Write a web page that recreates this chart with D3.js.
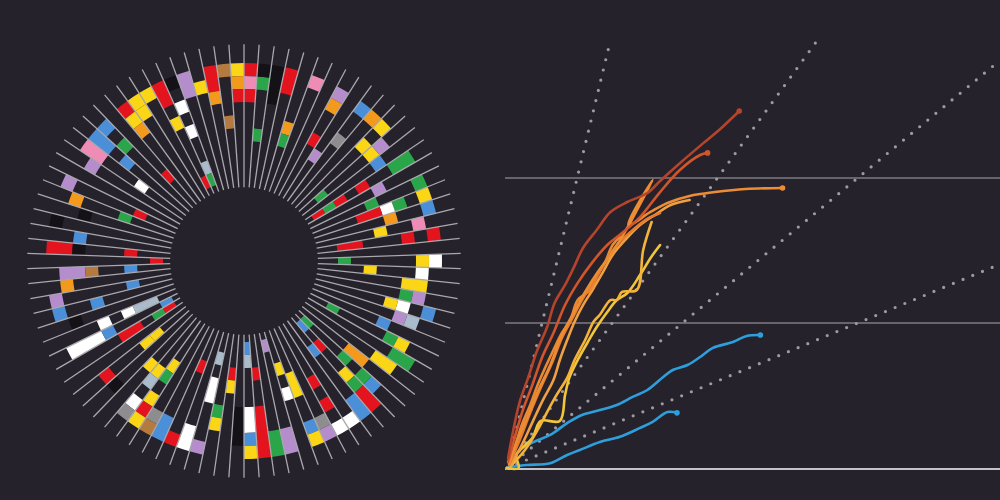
<!DOCTYPE html>
<html><head><meta charset="utf-8">
<script src="https://cdn.jsdelivr.net/npm/d3@7"></script>
<style>html,body{margin:0;padding:0;background:#25222b;}svg{display:block;}</style>
</head><body>
<svg id="chart" width="1000" height="500"></svg>
<script>
// ---------- radial chart data ----------
const spokeCount = 90;
const ringCount = 10;
const palette = {R:"#e3141e",Y:"#fbd616",W:"#ffffff",B:"#4b8fd8",G:"#2aa54a",O:"#f39a1c",P:"#b58ccc",K:"#ef8cb6",A:"#8d8d8f",L:"#a8bccb",N:"#b47a3e",X:"#141217"};
// [sector, first ring, ring count, colour key]
const cells = [
[0,8,1,"R"],[0,7,1,"K"],[0,6,1,"R"],
[1,7,1,"G"],[1,3,1,"G"],[1,8,1,"X"],
[2,6,3,"X"],
[3,7,2,"R"],
[4,4,1,"O"],[4,3,1,"G"],
[5,8,1,"K"],
[7,8,1,"P"],[7,7,1,"O"],[7,4,1,"R"],
[8,3,1,"P"],
[9,8,1,"B"],[9,5,1,"A"],
[10,8,1,"O"],
[11,8,1,"Y"],[11,6,1,"Y"],
[12,6,1,"Y"],[12,7,1,"P"],[12,1,1,"G"],
[13,6,1,"B"],
[14,7,2,"G"],[14,4,1,"R"],[14,2,1,"R"],[14,1,1,"G"],[14,0,1,"R"],
[15,5,1,"P"],
[16,8,1,"G"],[16,4,1,"G"],
[17,8,1,"Y"],[17,6,1,"G"],[17,5,1,"W"],[17,3,2,"R"],
[18,8,1,"B"],[18,5,1,"O"],
[19,7,1,"K"],[19,4,1,"Y"],
[20,8,1,"R"],[20,6,1,"R"],[20,1,2,"R"],
[22,7,1,"Y"],[22,8,1,"W"],[22,1,1,"G"],
[23,7,1,"W"],[23,3,1,"Y"],
[24,6,2,"Y"],
[25,6,1,"G"],[25,7,1,"P"],
[26,6,1,"W"],[26,8,1,"B"],[26,5,1,"Y"],
[27,6,1,"P"],[27,7,1,"L"],
[28,5,1,"B"],
[29,6,1,"G"],[29,7,1,"Y"],[29,1,1,"G"],
[30,7,2,"G"],
[31,6,2,"Y"],
[32,4,2,"O"],
[33,4,1,"G"],[33,6,1,"G"],[33,7,1,"B"],[33,0,1,"G"],
[34,5,1,"Y"],[34,6,1,"G"],[34,7,2,"R"],[34,0,1,"B"],[34,2,1,"R"],
[35,7,2,"B"],[35,2,1,"B"],
[36,8,1,"W"],
[37,4,1,"R"],[37,6,1,"R"],[37,8,1,"W"],
[38,7,1,"A"],[38,8,1,"P"],
[39,3,2,"Y"],[39,7,1,"B"],[39,8,1,"Y"],
[40,2,1,"Y"],[40,4,1,"W"],
[41,7,2,"P"],[41,0,1,"P"],
[42,7,2,"G"],
[43,5,4,"R"],[43,2,1,"R"],
[44,5,2,"W"],[44,7,1,"B"],[44,8,1,"Y"],[44,0,1,"B"],[44,1,1,"L"],
[45,5,3,"X"],
[46,2,1,"R"],[46,3,1,"Y"],
[47,5,1,"G"],[47,6,1,"Y"],
[48,8,1,"P"],[48,1,1,"L"],[48,3,2,"W"],
[49,7,2,"W"],
[50,8,1,"R"],[50,2,1,"R"],
[51,7,2,"B"],
[52,7,1,"A"],[52,8,1,"N"],
[53,3,1,"Y"],[53,4,1,"G"],[53,6,1,"Y"],[53,7,1,"R"],[53,8,1,"Y"],
[54,4,1,"Y"],[54,5,1,"L"],[54,7,1,"W"],[54,8,1,"A"],
[55,4,1,"Y"],
[56,7,1,"X"],
[57,2,1,"Y"],[57,3,1,"Y"],[57,7,1,"R"],
[59,3,2,"R"],[59,0,1,"R"],[59,1,1,"G"],
[60,6,3,"W"],[60,5,1,"B"],[60,0,1,"B"],
[61,3,1,"W"],[61,1,2,"L"],[61,5,1,"W"],
[62,7,1,"X"],
[63,8,1,"B"],[63,5,1,"B"],
[64,8,1,"P"],[64,2,1,"B"],
[65,7,1,"O"],
[66,6,2,"P"],[66,5,1,"N"],[66,2,1,"B"],
[67,0,1,"R"],
[68,7,2,"R"],[68,2,1,"R"],[68,6,1,"X"],
[69,6,1,"B"],
[70,8,1,"X"],
[71,6,1,"X"],
[72,7,1,"O"],[72,3,1,"G"],
[73,8,1,"P"],[73,2,1,"R"],
[75,7,1,"P"],
[76,7,2,"K"],[76,3,1,"W"],
[77,7,2,"B"],[77,5,1,"B"],
[78,8,1,"B"],[78,6,1,"G"],
[79,2,1,"R"],
[80,8,1,"R"],[80,7,1,"Y"],[80,6,1,"O"],
[81,8,1,"Y"],[81,7,1,"Y"],
[82,8,1,"Y"],
[83,7,2,"R"],[83,5,1,"Y"],[83,0,1,"R"],
[84,6,1,"W"],[84,4,1,"W"],[84,1,1,"L"],[84,0,1,"G"],[84,8,1,"X"],
[85,7,2,"P"],
[86,7,1,"Y"],
[87,7,2,"R"],[87,6,1,"O"],
[88,8,1,"N"],[88,4,1,"N"],
[89,8,1,"Y"],[89,7,1,"O"],[89,6,1,"R"]
];

// ---------- line chart data: [day, value] ----------
const guideDoublingDays = [1, 3, 5, 10];
const gridValues = [10, 100];
const seriesA = [[0.1,1.17],[0.6,1.83],[1.2,2.85],[2.0,4.18],[2.8,6.31],[3.8,9.38],[4.5,13.7],[5.5,18.3],[6.3,23.9],[7.2,32.9],[8.5,43.8],[9.8,58.3],[11.4,68.3],[13.3,78.8],[14.5,95.4],[16.4,127],[18.6,174],[20.2,218],[22.0,290]];
const seriesB = [[0.1,1.10],[0.8,1.69],[1.5,2.51],[2.4,3.74],[3.3,5.74],[4.4,8.53],[5.5,13.3],[6.7,18.9],[8.1,26.3],[9.5,34.5],[10.9,41.8],[12.6,53.8],[14.5,80.0],[16.4,114],[18.3,144],[19.0,149]];
const seriesC = [[0.2,1.07],[0.9,1.51],[1.9,2.21],[2.9,3.34],[4.1,5.13],[5.2,8.26],[6.3,11.7],[7.4,16.4],[8.6,22.5],[10.0,30.9],[11.7,49.7],[13.8,96.9],[11.5,47.4],[13.6,58.3],[15.2,67.3],[17.3,75.2],[19.7,80.0],[22.6,84.0],[26.1,85.3]];
const seriesD = [[0.2,1.05],[1.2,1.56],[2.2,2.40],[3.1,3.45],[4.3,5.38],[5.2,7.88],[6.2,10.8],[7.1,14.4],[8.3,19.8],[9.3,26.3],[10.4,34.5],[11.7,42.4],[13.1,51.3],[14.5,57.4]];
const seriesE = [[0.3,1.03],[1.4,1.44],[2.5,2.14],[3.4,2.94],[4.4,4.04],[5.0,5.56],[5.7,7.63],[6.4,10.2],[7.2,13.3],[8.1,16.9],[9.1,22.5],[10.0,29.4],[11.2,37.4],[12.6,47.4],[14.0,55.6],[15.5,65.1],[17.3,70.5]];
const seriesF = [[0.3,1.02],[1.7,1.33],[2.9,1.83],[3.9,2.51],[4.7,3.19],[5.7,4.18],[6.4,5.56],[7.4,7.63],[8.2,10.2],[8.8,11.4],[9.8,14.4],[10.4,14.4],[10.9,16.4],[12.3,16.9],[12.9,31.9],[13.7,49.7]];
const seriesG = [[0,1],[1.1,1],[0.9,1.23],[2.4,1.61],[3.2,2.11],[5.0,2.11],[5.5,3.19],[5.9,4.18],[6.7,5.56],[7.6,7.28],[8.5,9.38],[9.5,11.9],[10.4,14.4],[11.4,16.1],[12.6,21.4],[13.6,28.1],[14.5,34.5]];
const seriesH = [[0.2,1.08],[0.8,1.44],[1.4,1.98],[2.2,2.72],[2.9,3.74],[3.6,4.89],[4.4,6.51],[5.2,8.53],[6.0,10.5],[6.7,14.4],[7.9,16.9],[8.6,21.4],[9.3,26.3],[10.0,34.5],[10.7,39.2]];
const seriesBlue1 = [[0.2,1.03],[1.2,1.33],[2.5,1.51],[4.1,1.69],[5.7,2.04],[7.1,2.32],[8.8,2.51],[10.4,2.72],[11.9,3.09],[13.3,3.45],[14.8,4.24],[15.7,4.74],[17.1,5.13],[18.3,5.83],[19.5,6.73],[21.4,7.39],[22.7,8.13],[24.0,8.26]];
const seriesBlue2 = [[0.3,1.02],[1.9,1.05],[4.1,1.08],[5.7,1.23],[6.9,1.33],[8.8,1.51],[10.7,1.64],[12.6,1.89],[13.8,2.08],[15.2,2.43],[16.1,2.40]];

const lineSeries = [
  {data: seriesBlue1, color:"#2e9fdc", end:true},
  {data: seriesBlue2, color:"#2e9fdc", end:true},
  {data: seriesG, color:"#f2c63a"},
  {data: seriesF, color:"#f4b43a"},
  {data: seriesE, color:"#f0a040"},
  {data: seriesH, color:"#e98a30"},
  {data: seriesD, color:"#ea7d2c"},
  {data: seriesC, color:"#ec8c35", end:true},
  {data: seriesB, color:"#d2552c", end:true},
  {data: seriesA, color:"#b4442c", end:true}
];

const svg = d3.select("#chart");

// ---------- radial ----------
const cx = 244, cy = 261;
const ang = d3.scaleLinear().domain([0, spokeCount]).range([0, 2*Math.PI]);
const rad = d3.scaleLinear().domain([0, ringCount]).range([81, 211]);
const g = svg.append("g").attr("transform", `translate(${cx},${cy})`);
const arc = d3.arc()
  .innerRadius(d => rad(d[1]))
  .outerRadius(d => rad(d[1] + d[2]))
  .startAngle(d => ang(d[0]))
  .endAngle(d => ang(d[0] + 1));
g.selectAll("path.cell").data(cells).join("path")
  .attr("class","cell").attr("d", arc).attr("fill", d => palette[d[3]]);
g.selectAll("line.spoke").data(d3.range(spokeCount)).join("line")
  .attr("class","spoke")
  .attr("x1", i => Math.sin(ang(i)) * rad(-0.55))
  .attr("y1", i => -Math.cos(ang(i)) * rad(-0.55))
  .attr("x2", i => Math.sin(ang(i)) * rad(10.45))
  .attr("y2", i => -Math.cos(ang(i)) * rad(10.45))
  .attr("stroke", "#a9a8ad").attr("stroke-width", 1.3);

// ---------- line chart ----------
const x = d3.scaleLinear().domain([0, 46.7]).range([507, 1000]);
const y = d3.scaleLog().domain([1, 1000]).range([468, 33]);
const guideTop = 900;
const guides = guideDoublingDays.map(d => {
  const endDay = Math.min(46.7, d * Math.log2(guideTop));
  return [[0,1],[endDay, Math.pow(2, endDay/d)]];
});
const line = d3.line().x(d => x(d[0])).y(d => y(d[1]));
const smoothLine = d3.line().x(d => x(d[0])).y(d => y(d[1])).curve(d3.curveCatmullRom.alpha(0.5));

svg.append("g").selectAll("line").data(gridValues).join("line")
  .attr("x1", 505).attr("x2", 1000)
  .attr("y1", d => y(d)).attr("y2", d => y(d))
  .attr("stroke", "#7e7c82").attr("stroke-width", 1.6);
svg.append("line").attr("x1",505).attr("x2",1000).attr("y1",y(1)+1).attr("y2",y(1)+1)
  .attr("stroke","#c4c3c8").attr("stroke-width",2);

svg.append("g").selectAll("path").data(guides).join("path")
  .attr("d", line).attr("fill","none")
  .attr("stroke","#9c9ba1").attr("stroke-width",3.2)
  .attr("stroke-linecap","round").attr("stroke-dasharray","0 10.5");

const lg = svg.append("g");
lg.selectAll("path").data(lineSeries).join("path")
  .attr("d", s => smoothLine(s.data)).attr("fill","none")
  .attr("stroke", s => s.color).attr("stroke-width", 2.6)
  .attr("stroke-linejoin","round").attr("stroke-linecap","round");
lg.selectAll("circle").data(lineSeries.filter(s => s.end)).join("circle")
  .attr("cx", s => x(s.data[s.data.length-1][0]))
  .attr("cy", s => y(s.data[s.data.length-1][1]))
  .attr("r", 2.8).attr("fill", s => s.color);
</script>
</body></html>
